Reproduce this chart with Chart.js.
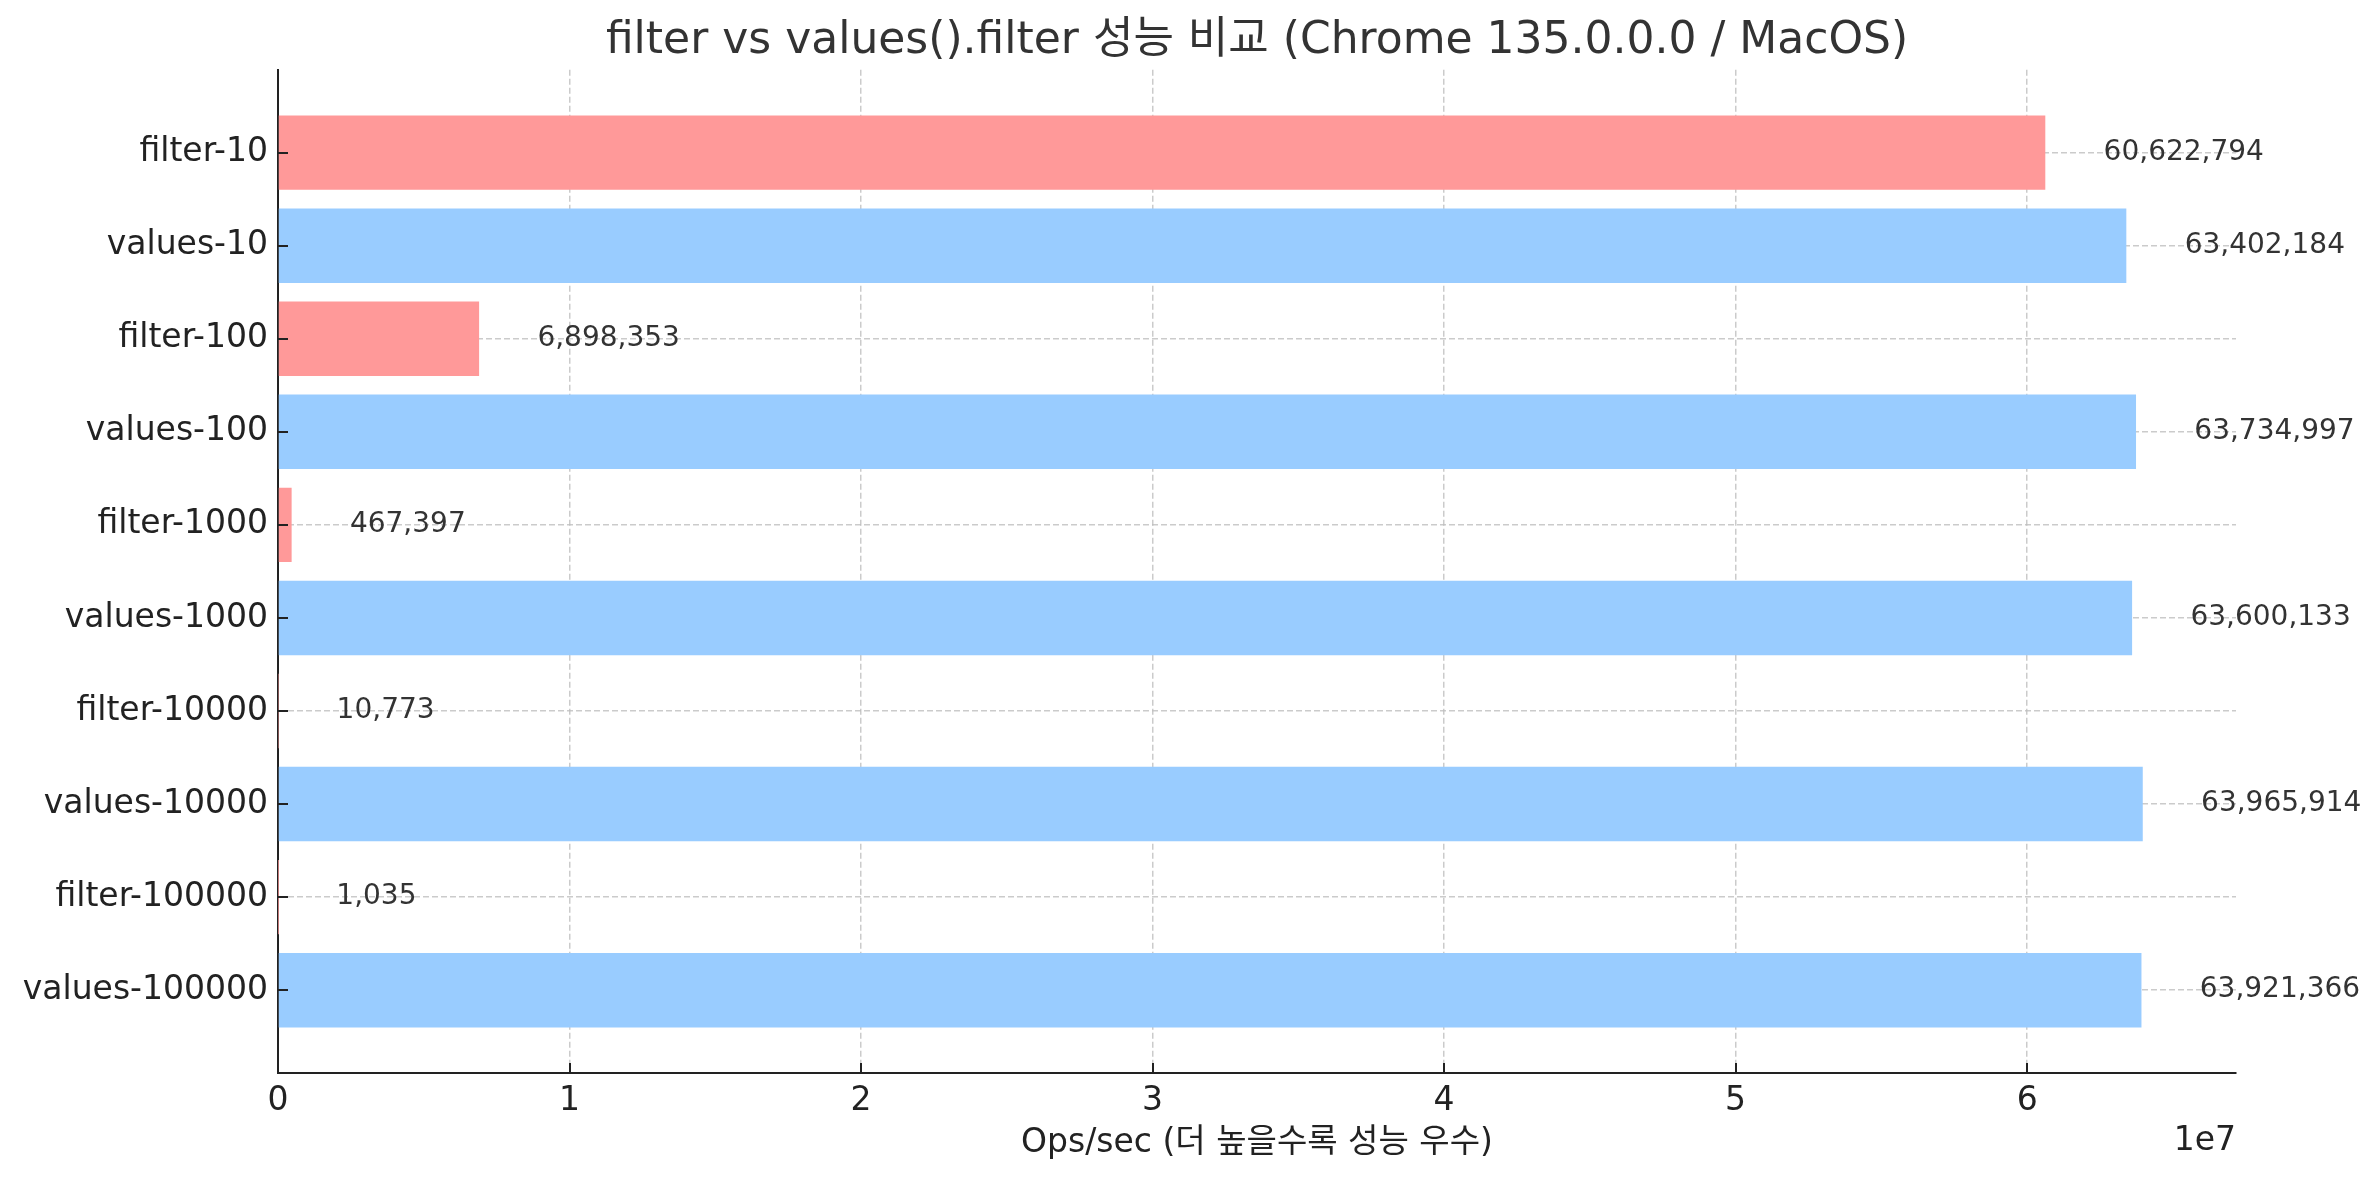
<!DOCTYPE html>
<html lang="ko">
<head>
<meta charset="utf-8">
<title>filter vs values().filter 성능 비교</title>
<script src="https://cdn.jsdelivr.net/npm/chart.js@4.4.1/dist/chart.umd.min.js"></script>
<style>
  html, body { margin:0; padding:0; background:#fff; }
  canvas { display:block; }
</style>
</head>
<body>
<canvas id="bench" width="2378" height="1180"></canvas>
<script>
/* 벤치마크 결과 (Chrome 135.0.0.0 / MacOS) — 그림에서 읽은 값 */
const labels = [
  "filter-10", "values-10", "filter-100", "values-100", "filter-1000",
  "values-1000", "filter-10000", "values-10000", "filter-100000", "values-100000"
];
const opsPerSec = [
  60622794, 63402184, 6898353, 63734997, 467397,
  63600133, 10773, 63965914, 1035, 63921366
];
const xTickValues = [0, 1e7, 2e7, 3e7, 4e7, 5e7, 6e7];
const titleText = "filter vs values().filter 성능 비교 (Chrome 135.0.0.0 / MacOS)";
const xTitleText = "Ops/sec (더 높을수록 성능 우수)";
const xOffsetText = "1e7";

const FONT = '"DejaVu Sans", "Noto Sans CJK KR", sans-serif';
const FILTER_COLOR = "#ff9999";
const VALUES_COLOR = "#99ccff";
const GRID_COLOR = "rgba(190,190,190,0.8)";
const AXIS_COLOR = "#222";
const X_MAX = 67164210;   // matplotlib 기본 5% 여백
const LABEL_GAP = 2e6;    // 막대 끝과 숫자 라벨 사이 간격(데이터 단위)

// 안쪽 눈금 + 막대 값 라벨 + 1e7 오프셋 텍스트
const overlay = {
  id: "overlay",
  afterDraw(chart){
    const {ctx, chartArea:a, scales:{x, y}} = chart;
    ctx.save();
    ctx.strokeStyle = AXIS_COLOR;
    ctx.lineWidth = 2;
    ctx.beginPath();
    x.ticks.forEach(t=>{
      const px = Math.round(x.getPixelForValue(t.value));
      ctx.moveTo(px, a.bottom); ctx.lineTo(px, a.bottom-10);
    });
    y.ticks.forEach(t=>{
      const py = Math.round(y.getPixelForValue(t.value));
      ctx.moveTo(a.left, py); ctx.lineTo(a.left+10, py);
    });
    ctx.stroke();

    ctx.font = "28px " + FONT;
    ctx.fillStyle = "#333";
    ctx.textAlign = "left";
    ctx.textBaseline = "middle";
    opsPerSec.forEach((v,i)=>{
      ctx.fillText(v.toLocaleString("en-US"), x.getPixelForValue(v+LABEL_GAP), y.getPixelForValue(i));
    });

    ctx.font = "33px " + FONT;
    ctx.fillStyle = AXIS_COLOR;
    ctx.textAlign = "right";
    ctx.textBaseline = "alphabetic";
    ctx.fillText(xOffsetText, a.right, 1150);
    ctx.restore();
  }
};

new Chart(document.getElementById("bench"), {
  type: "bar",
  data: {
    datasets: [{
      data: opsPerSec.map((v,i)=>({x:v, y:i})),
      backgroundColor: labels.map(l=>l.startsWith("filter") ? FILTER_COLOR : VALUES_COLOR),
      borderWidth: 0,
      categoryPercentage: 1,
      barPercentage: 0.8,
    }]
  },
  options: {
    indexAxis: "y",
    responsive: false,
    animation: false,
    devicePixelRatio: 1,
    layout: {padding:{left:0, right:142, top:0, bottom:0}},
    plugins: {
      legend: {display:false},
      tooltip: {enabled:false},
      title: {
        display: true,
        text: titleText,
        fullSize: false,
        color: "#333",
        font: {family: FONT, size: 44, weight: "normal"},
        padding: {top: 15, bottom: 2},
      },
    },
    scales: {
      x: {
        type: "linear",
        min: 0, max: X_MAX,
        z: 1,
        afterBuildTicks(s){ s.ticks = xTickValues.map(v=>({value:v})); },
        afterFit(s){ s.height = 107; },
        ticks: {
          padding: 9,
          maxRotation: 0,
          autoSkip: false,
          color: AXIS_COLOR,
          font: {family: FONT, size: 33},
          callback: v => v/1e7,
        },
        grid: {color: GRID_COLOR, lineWidth: 1.5, drawTicks: false},
        border: {display: true, color: AXIS_COLOR, width: 2, dash: [6,3]},
        title: {
          display: true,
          text: xTitleText,
          color: AXIS_COLOR,
          font: {family: FONT, size: 33},
          padding: {top: 0, bottom: 17},
        },
      },
      y: {
        type: "linear",
        reverse: true,
        offset: false,
        min: -0.89, max: 9.89,
        z: 1,
        afterBuildTicks(s){ s.ticks = labels.map((_,i)=>({value:i})); },
        afterFit(s){ s.width = 278; },
        ticks: {
          padding: 10,
          autoSkip: false,
          color: AXIS_COLOR,
          font: {family: FONT, size: 33},
          callback: v => labels[v] ?? "",
        },
        grid: {color: GRID_COLOR, lineWidth: 1.5, drawTicks: false, offset: false},
        border: {display: true, color: AXIS_COLOR, width: 2, dash: [6,3]},
      },
    },
  },
  plugins: [overlay],
});
</script>
</body>
</html>
